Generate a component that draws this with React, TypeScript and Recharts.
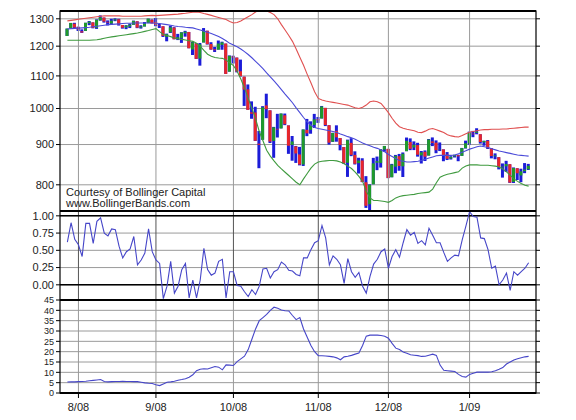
import React from 'react';
import { ComposedChart, Bar, Line, XAxis, YAxis, CartesianGrid, ReferenceLine, Cell } from 'recharts';

// trading days, 29 Jul 2008 .. 27 Jan 2009
const dates = [
  '2008-07-29', '2008-07-30', '2008-07-31',
  '2008-08-01', '2008-08-04', '2008-08-05', '2008-08-06', '2008-08-07', '2008-08-08', '2008-08-11', '2008-08-12', '2008-08-13', '2008-08-14', '2008-08-15', '2008-08-18', '2008-08-19', '2008-08-20', '2008-08-21', '2008-08-22', '2008-08-25', '2008-08-26', '2008-08-27', '2008-08-28', '2008-08-29',
  '2008-09-02', '2008-09-03', '2008-09-04', '2008-09-05', '2008-09-08', '2008-09-09', '2008-09-10', '2008-09-11', '2008-09-12', '2008-09-15', '2008-09-16', '2008-09-17', '2008-09-18', '2008-09-19', '2008-09-22', '2008-09-23', '2008-09-24', '2008-09-25', '2008-09-26', '2008-09-29', '2008-09-30',
  '2008-10-01', '2008-10-02', '2008-10-03', '2008-10-06', '2008-10-07', '2008-10-08', '2008-10-09', '2008-10-10', '2008-10-13', '2008-10-14', '2008-10-15', '2008-10-16', '2008-10-17', '2008-10-20', '2008-10-21', '2008-10-22', '2008-10-23', '2008-10-24', '2008-10-27', '2008-10-28', '2008-10-29', '2008-10-30', '2008-10-31',
  '2008-11-03', '2008-11-04', '2008-11-05', '2008-11-06', '2008-11-07', '2008-11-10', '2008-11-11', '2008-11-12', '2008-11-13', '2008-11-14', '2008-11-17', '2008-11-18', '2008-11-19', '2008-11-20', '2008-11-21', '2008-11-24', '2008-11-25', '2008-11-26', '2008-11-28',
  '2008-12-01', '2008-12-02', '2008-12-03', '2008-12-04', '2008-12-05', '2008-12-08', '2008-12-09', '2008-12-10', '2008-12-11', '2008-12-12', '2008-12-15', '2008-12-16', '2008-12-17', '2008-12-18', '2008-12-19', '2008-12-22', '2008-12-23', '2008-12-24', '2008-12-26', '2008-12-29', '2008-12-30', '2008-12-31',
  '2009-01-02', '2009-01-05', '2009-01-06', '2009-01-07', '2009-01-08', '2009-01-09', '2009-01-12', '2009-01-13', '2009-01-14', '2009-01-15', '2009-01-16', '2009-01-20', '2009-01-21', '2009-01-22', '2009-01-23', '2009-01-26', '2009-01-27',
];

const opens = [
  1236.4, 1264.5, 1281.4,
  1269.4, 1253.3, 1254.9, 1283.0, 1286.5, 1266.3, 1294.4, 1304.8, 1288.6, 1282.1, 1293.9, 1298.1, 1276.7, 1267.3, 1271.1, 1277.6, 1290.5, 1267.0, 1271.3, 1283.8, 1296.5,
  1287.8, 1276.6, 1271.8, 1233.2, 1249.5, 1267.0, 1227.5, 1229.0, 1245.9, 1250.9, 1188.3, 1210.3, 1157.1, 1213.1, 1255.4, 1207.6, 1188.8, 1187.9, 1204.5, 1209.1, 1113.8,
  1164.2, 1160.6, 1115.2, 1097.6, 1057.6, 988.9, 988.4, 902.3, 912.8, 1009.0, 994.6, 909.5, 942.3, 943.5, 980.4, 951.7, 899.1, 895.2, 874.3, 848.9, 939.5, 939.4, 953.1,
  968.7, 971.3, 1001.8, 952.4, 907.4, 936.8, 917.2, 893.4, 853.1, 904.4, 873.2, 852.3, 859.0, 805.9, 755.8, 801.2, 853.4, 852.9, 886.9,
  888.6, 817.9, 843.6, 869.8, 844.4, 882.7, 906.5, 892.2, 898.4, 871.8, 881.1, 871.5, 908.2, 905.0, 887.0, 887.2, 874.3, 863.9, 869.5, 872.4, 870.6, 890.6,
  903.0, 929.2, 931.2, 927.5, 905.7, 909.9, 890.4, 869.8, 867.3, 842.0, 844.5, 849.6, 806.8, 839.7, 822.2, 832.5, 837.3,
];

const highs = [
  1263.2, 1284.3, 1284.9,
  1270.5, 1260.5, 1284.9, 1291.7, 1286.5, 1297.9, 1313.2, 1304.8, 1294.0, 1300.1, 1302.0, 1300.2, 1276.7, 1276.0, 1281.6, 1293.1, 1290.5, 1275.7, 1288.0, 1300.7, 1297.6,
  1303.0, 1280.6, 1271.8, 1244.9, 1274.4, 1268.7, 1243.9, 1249.9, 1255.1, 1250.9, 1214.8, 1210.3, 1211.1, 1265.3, 1255.4, 1214.0, 1197.4, 1220.0, 1215.8, 1209.1, 1168.0,
  1167.0, 1160.6, 1153.8, 1097.6, 1072.9, 1021.1, 1005.3, 936.4, 1006.9, 1044.3, 994.6, 947.7, 984.6, 985.4, 985.4, 951.7, 922.8, 896.3, 893.8, 940.5, 970.0, 963.2, 984.4,
  975.6, 1007.5, 1001.8, 952.4, 931.5, 952.0, 917.2, 893.4, 913.0, 916.9, 882.3, 865.9, 864.6, 820.5, 801.2, 865.6, 868.9, 887.7, 896.3,
  888.6, 850.5, 873.1, 875.6, 879.4, 918.6, 916.3, 908.3, 904.6, 883.2, 884.6, 914.7, 918.9, 911.0, 905.5, 887.4, 880.4, 869.8, 873.7, 873.7, 891.1, 910.3,
  934.7, 936.6, 943.9, 927.5, 910.0, 911.9, 890.4, 877.0, 867.3, 851.6, 858.1, 849.6, 841.7, 839.7, 838.6, 852.5, 850.5,
];

const lows = [
  1236.4, 1264.5, 1265.1,
  1254.5, 1247.5, 1254.7, 1276.0, 1264.3, 1262.1, 1292.8, 1285.6, 1274.9, 1276.8, 1291.0, 1274.5, 1263.1, 1261.2, 1265.2, 1277.6, 1264.9, 1263.2, 1271.0, 1283.8, 1282.7,
  1272.2, 1265.6, 1232.8, 1217.2, 1247.1, 1224.5, 1221.6, 1211.5, 1233.8, 1192.7, 1169.3, 1155.9, 1133.5, 1213.1, 1205.6, 1187.8, 1179.8, 1187.9, 1187.5, 1106.4, 1113.8,
  1140.8, 1111.4, 1098.1, 1007.6, 996.2, 970.4, 909.2, 839.8, 912.8, 972.1, 904.0, 865.8, 918.7, 943.5, 952.5, 875.8, 858.4, 852.9, 846.8, 845.3, 922.3, 928.9, 944.6,
  958.8, 971.3, 949.9, 899.7, 906.9, 907.5, 884.9, 850.5, 818.7, 869.9, 849.0, 826.8, 806.2, 747.8, 741.0, 801.2, 835.0, 841.4, 881.2,
  815.7, 817.9, 827.6, 833.6, 818.4, 882.7, 885.4, 885.5, 868.7, 851.4, 857.7, 871.5, 895.9, 877.4, 883.0, 857.1, 860.1, 861.4, 866.5, 857.1, 870.6, 889.4,
  899.4, 919.5, 927.3, 902.4, 896.8, 888.3, 864.3, 862.0, 836.9, 817.0, 830.7, 804.5, 804.3, 811.3, 806.1, 827.7, 835.4,
];

const closes = [
  1263.2, 1284.3, 1267.4,
  1260.3, 1249.0, 1284.9, 1289.2, 1266.1, 1296.3, 1305.3, 1289.6, 1285.8, 1292.9, 1298.2, 1278.6, 1266.7, 1274.5, 1277.7, 1292.2, 1266.8, 1271.5, 1281.7, 1300.7, 1282.8,
  1277.6, 1275.0, 1236.8, 1242.3, 1267.8, 1224.5, 1232.0, 1249.1, 1251.7, 1192.7, 1213.6, 1156.4, 1206.5, 1255.1, 1207.1, 1188.2, 1185.9, 1209.2, 1213.3, 1106.4, 1166.4,
  1161.1, 1114.3, 1099.2, 1056.9, 996.2, 984.9, 909.9, 899.2, 1003.4, 998.0, 907.8, 946.4, 940.6, 985.4, 955.1, 896.8, 908.1, 876.8, 848.9, 940.5, 930.1, 954.1, 968.8,
  966.3, 1005.8, 952.8, 904.9, 931.0, 919.2, 899.0, 852.3, 911.3, 873.3, 850.8, 859.1, 806.6, 752.4, 800.0, 851.8, 857.4, 887.7, 896.2,
  816.2, 848.8, 870.7, 845.2, 876.1, 909.7, 888.7, 899.2, 873.6, 879.7, 868.6, 913.2, 904.4, 885.3, 887.9, 871.6, 863.2, 868.2, 872.8, 869.4, 890.6, 903.3,
  931.8, 927.5, 934.7, 906.7, 909.7, 890.4, 870.3, 871.8, 842.6, 843.7, 850.1, 805.2, 840.2, 827.5, 832.0, 836.6, 845.7,
];

const upperBand = [
  1292, 1294, 1296,
  1298, 1300, 1302, 1304, 1306, 1308, 1310, 1311, 1311, 1311, 1311, 1311, 1310, 1310, 1310, 1310, 1310, 1310, 1311, 1312, 1313,
  1312, 1313, 1314, 1315, 1316, 1317, 1318, 1320, 1321, 1323, 1325, 1326, 1324, 1320, 1317, 1313, 1309, 1305, 1301, 1297, 1290,
  1284, 1286, 1292, 1300, 1308, 1316, 1326, 1334, 1334, 1330, 1324, 1316, 1300, 1278, 1258, 1238, 1217, 1190, 1162, 1135, 1105, 1078, 1050,
  1030, 1025, 1022, 1020, 1018, 1016, 1014, 1012, 1010, 1006, 1002, 1000, 1004, 1010, 1020, 1022, 1020, 1015, 1002,
  988, 972, 958, 948, 944, 941, 939, 937, 933, 932, 936, 941, 943, 940, 936, 932, 926, 923, 921, 920, 924, 929,
  933, 935, 937, 939, 940, 940, 941, 941, 941, 942, 942, 943, 944, 945, 946, 947, 947,
];

const middleBand = [
  1262, 1263, 1264,
  1265, 1266, 1267, 1268, 1270, 1272, 1274, 1276, 1278, 1279, 1280, 1281, 1282, 1283, 1283, 1284, 1284, 1284, 1284, 1284, 1284,
  1283, 1282, 1280, 1278, 1276, 1273, 1271, 1270, 1268, 1267, 1266, 1262, 1258, 1254, 1250, 1245, 1240, 1234, 1227, 1219, 1210,
  1204, 1198, 1190, 1181, 1171, 1160, 1148, 1136, 1124, 1110, 1097, 1084, 1071, 1057, 1043, 1030, 1017, 1002, 988, 974, 962, 952, 946,
  943, 941, 939, 937, 935, 932, 928, 925, 921, 918, 914, 909, 904, 900, 897, 893, 890, 886, 881,
  874, 869, 864, 859, 857, 855, 855, 856, 857, 859, 862, 865, 868, 871, 872, 872, 872, 872, 873, 876, 880, 884,
  888, 891, 894, 896, 894, 892, 889, 886, 883, 881, 879, 877, 875, 873, 872, 871, 870,
];

const lowerBand = [
  1221, 1221, 1221,
  1221, 1221, 1221, 1221, 1222, 1223, 1225, 1228, 1231, 1233, 1235, 1237, 1239, 1241, 1243, 1245, 1247, 1250, 1253, 1256, 1260,
  1263, 1252, 1242, 1238, 1234, 1229, 1226, 1224, 1222, 1219, 1217, 1210, 1200, 1185, 1172, 1165, 1161, 1159, 1158, 1152, 1143,
  1134, 1115, 1090, 1062, 1030, 1000, 971, 935, 910, 885, 870, 858, 847, 838, 830, 822, 814, 806, 800, 814, 827, 840, 850,
  855, 857, 858, 859, 859, 858, 855, 851, 845, 839, 830, 820, 808, 785, 770, 764, 764, 763, 762,
  760, 764, 770, 773, 775, 776, 777, 778, 780, 781, 782, 783, 790, 805, 818, 822, 825, 827, 829, 831, 840, 845,
  848, 848, 848, 847, 847, 847, 846, 845, 843, 838, 831, 823, 814, 808, 803, 799, 797,
];

const percentB = [
  0.62, 0.90, 0.66,
  0.58, 0.41, 0.89, 0.89, 0.60, 0.92, 0.97, 0.75, 0.71, 0.81, 0.80, 0.56, 0.39, 0.48, 0.52, 0.70, 0.29, 0.36, 0.46, 0.81, 0.48,
  0.36, 0.31, -0.20, -0.02, 0.34, -0.12, -0.02, 0.22, 0.31, -0.19, 0.07, -0.19, 0.07, 0.53, 0.22, 0.14, 0.17, 0.34, 0.37, -0.19, 0.19,
  0.19, -0.01, -0.02, -0.10, -0.17, -0.07, -0.14, -0.02, 0.23, 0.24, 0.10, 0.19, 0.22, 0.33, 0.29, 0.21, 0.20, 0.15, 0.13, 0.39, 0.39, 0.51, 0.61,
  0.64, 0.86, 0.68, 0.29, 0.42, 0.37, 0.29, 0.02, 0.38, 0.19, 0.11, 0.18, -0.02, -0.12, 0.12, 0.30, 0.37, 0.48, 0.52,
  0.24, 0.41, 0.51, 0.40, 0.61, 0.80, 0.72, 0.76, 0.60, 0.64, 0.58, 0.82, 0.72, 0.61, 0.61, 0.47, 0.34, 0.39, 0.43, 0.42, 0.65, 0.85,
  1.06, 0.99, 0.98, 0.68, 0.67, 0.51, 0.24, 0.27, 0.00, 0.07, 0.17, -0.08, 0.19, 0.14, 0.19, 0.24, 0.32,
];

const bandWidth = [
  5.3, 5.4, 5.4,
  5.5, 5.6, 5.7, 5.9, 6.1, 6.3, 6.5, 5.6, 5.4, 5.5, 5.6, 5.6, 5.7, 5.6, 5.6, 5.5, 5.5, 5.2, 4.9, 4.7, 4.6,
  4.0, 3.6, 4.4, 5.2, 5.4, 5.7, 6.2, 6.5, 6.9, 7.6, 8.8, 10.8, 11.5, 11.7, 11.6, 12.2, 12.8, 12.5, 11.2, 13.6, 13.5,
  13.3, 15.2, 16.5, 17.8, 21.0, 26.0, 31.0, 35.0, 36.5, 38.0, 40.0, 41.5, 41.0, 40.2, 39.8, 39.7, 37.5, 35.5, 36.5, 31.0, 27.0, 23.0, 20.0,
  18.1, 18.0, 17.9, 17.7, 17.5, 17.0, 16.1, 17.5, 17.8, 18.2, 18.8, 19.3, 23.0, 27.5, 28.0, 28.1, 28.0, 27.8, 27.5,
  26.5, 24.0, 21.7, 21.0, 19.8, 19.2, 18.5, 18.3, 18.1, 17.7, 17.8, 18.3, 18.8, 18.2, 13.5, 11.0, 10.8, 10.6, 10.4, 9.0, 8.0, 7.7,
  9.0, 9.6, 10.1, 10.1, 10.1, 10.1, 10.3, 10.8, 11.5, 12.3, 14.0, 15.0, 16.0, 16.6, 17.1, 17.5, 17.7,
];

const monthTicks = [3, 24, 45, 68, 87, 109];
const monthLabels = ['8/08', '9/08', '10/08', '11/08', '12/08', '1/09'];
const priceTicks = [800, 900, 1000, 1100, 1200, 1300];
const pctBTicks = [0, 0.25, 0.5, 0.75, 1];
const bwTicks = [0, 5, 10, 15, 20, 25, 30, 35, 40, 45];

const data = dates.map((date, i) => ({
  i,
  date,
  wick: [lows[i], highs[i]],
  body: [Math.min(opens[i], closes[i]), Math.max(opens[i], closes[i])],
  up: closes[i] >= opens[i],
  upper: upperBand[i],
  middle: middleBand[i],
  lower: lowerBand[i],
  pctB: percentB[i],
  bw: bandWidth[i],
}));

const FONT = '"Liberation Sans", Arial, sans-serif';
const X_DOMAIN: [number, number] = [-2, 127];
const tickStyle = { fontSize: 11, fill: '#222', fontFamily: FONT };
const smallTickStyle = { fontSize: 9, fill: '#222', fontFamily: FONT };
const GRID = '#9a9a9a';

const monthLines = (color: string) =>
  monthTicks.map((m) => (
    <ReferenceLine key={m} x={m} xAxisId="w" yAxisId="l" stroke={color} strokeWidth={1} ifOverflow="hidden" />
  ));

const rightAxis = (domain: any, ticks: number[], scale?: any) => (
  <YAxis
    yAxisId="r"
    orientation="right"
    width={40}
    scale={scale}
    domain={domain}
    ticks={ticks}
    interval={0}
    allowDataOverflow
    axisLine={false}
    tickSize={4}
    tickLine={{ stroke: '#000' }}
    tickFormatter={() => ''}
  />
);

export default function App() {
  return (
    <div style={{ position: 'absolute', left: 0, top: 0, width: 576, height: 420, background: '#fff', fontFamily: FONT }}>
      {/* price + bands */}
      <div style={{ position: 'absolute', left: 0, top: 0 }}>
        <ComposedChart width={576} height={212} data={data} margin={{ top: 11, right: 0, bottom: 1, left: 0 }}>
          <XAxis xAxisId="w" dataKey="i" type="number" domain={X_DOMAIN} allowDataOverflow hide />
          <XAxis xAxisId="b" dataKey="i" type="number" domain={X_DOMAIN} allowDataOverflow hide />
          <YAxis
            yAxisId="l"
            scale="log"
            domain={[741, 1330]}
            ticks={priceTicks}
            interval={0}
            allowDataOverflow
            width={60}
            axisLine={false}
            tickSize={4}
            tickMargin={2}
            tickLine={{ stroke: '#000' }}
            tick={tickStyle}
          />
          {rightAxis([741, 1330], priceTicks, 'log')}
          <CartesianGrid xAxisId="w" yAxisId="l" vertical={false} stroke={GRID} />
          {monthLines(GRID)}
          <Bar xAxisId="w" yAxisId="l" dataKey="wick" barSize={3} fill="#1c1cd8" isAnimationActive={false} />
          <Bar xAxisId="b" yAxisId="l" dataKey="body" barSize={3} isAnimationActive={false}>
            {data.map((d) => (
              <Cell key={d.date} fill={d.up ? '#1f9a2a' : '#e8262a'} />
            ))}
          </Bar>
          <Line xAxisId="w" yAxisId="l" dataKey="upper" stroke="#e05050" strokeWidth={1.1} dot={false} isAnimationActive={false} />
          <Line xAxisId="w" yAxisId="l" dataKey="middle" stroke="#4a4ad8" strokeWidth={1.1} dot={false} isAnimationActive={false} />
          <Line xAxisId="w" yAxisId="l" dataKey="lower" stroke="#3f9a3f" strokeWidth={1.1} dot={false} isAnimationActive={false} />
        </ComposedChart>
      </div>

      {/* %b */}
      <div style={{ position: 'absolute', left: 0, top: 200 }}>
        <ComposedChart width={576} height={101} data={data} margin={{ top: 11, right: 0, bottom: 1, left: 0 }}>
          <XAxis xAxisId="w" dataKey="i" type="number" domain={X_DOMAIN} allowDataOverflow hide />
          <YAxis
            yAxisId="l"
            domain={[-0.22, 1.07]}
            ticks={pctBTicks}
            interval={0}
            allowDataOverflow
            width={60}
            axisLine={false}
            tickSize={4}
            tickMargin={2}
            tickLine={{ stroke: '#000' }}
            tick={tickStyle}
            tickFormatter={(v: number) => v.toFixed(2)}
          />
          {rightAxis([-0.22, 1.07], pctBTicks)}
          <CartesianGrid xAxisId="w" yAxisId="l" vertical={false} stroke={GRID} />
          {monthLines('#555')}
          <ReferenceLine xAxisId="w" yAxisId="l" y={0} stroke="#000" strokeWidth={1.5} />
          <ReferenceLine xAxisId="w" yAxisId="l" y={1} stroke="#000" strokeWidth={1.5} />
          <Line xAxisId="w" yAxisId="l" dataKey="pctB" stroke="#4646c8" strokeWidth={1.1} dot={false} isAnimationActive={false} />
        </ComposedChart>
      </div>

      {/* bandwidth */}
      <div style={{ position: 'absolute', left: 0, top: 290 }}>
        <ComposedChart width={576} height={130} data={data} margin={{ top: 10, right: 0, bottom: 0, left: 0 }}>
          <XAxis
            xAxisId="w"
            dataKey="i"
            type="number"
            domain={X_DOMAIN}
            allowDataOverflow
            ticks={monthTicks}
            interval={0}
            height={27}
            axisLine={false}
            tickSize={5}
            tickMargin={5}
            tickLine={{ stroke: '#000' }}
            tick={tickStyle}
            tickFormatter={(v: number) => monthLabels[monthTicks.indexOf(v)]}
          />
          <YAxis
            yAxisId="l"
            domain={[0, 45]}
            ticks={bwTicks}
            interval={0}
            allowDataOverflow
            width={60}
            axisLine={false}
            tickSize={4}
            tickMargin={2}
            tickLine={{ stroke: '#000' }}
            tick={smallTickStyle}
          />
          {rightAxis([0, 45], bwTicks)}
          <CartesianGrid xAxisId="w" yAxisId="l" vertical={false} stroke={GRID} />
          {monthLines(GRID)}
          <Line xAxisId="w" yAxisId="l" dataKey="bw" stroke="#4646c8" strokeWidth={1.1} dot={false} isAnimationActive={false} />
        </ComposedChart>
      </div>

      {/* frames and credit */}
      <svg width={576} height={420} style={{ position: 'absolute', left: 0, top: 0, pointerEvents: 'none' }}>
        <rect x={60} y={11} width={476} height={382} fill="none" stroke="#000" strokeWidth={1.2} />
        <line x1={60} x2={536} y1={11} y2={11} stroke="#000" strokeWidth={2} />
        <line x1={60} x2={536} y1={211} y2={211} stroke="#000" strokeWidth={2} />
        <line x1={60} x2={536} y1={300} y2={300} stroke="#000" strokeWidth={2} />
        <line x1={60} x2={536} y1={393} y2={393} stroke="#000" strokeWidth={2} />
        <text x={66} y={195.5} fontSize={11} fill="#222" fontFamily={FONT}>Courtesy of Bollinger Capital</text>
        <text x={66} y={207} fontSize={11} fill="#222" fontFamily={FONT}>www.BollingerBands.com</text>
      </svg>
    </div>
  );
}
